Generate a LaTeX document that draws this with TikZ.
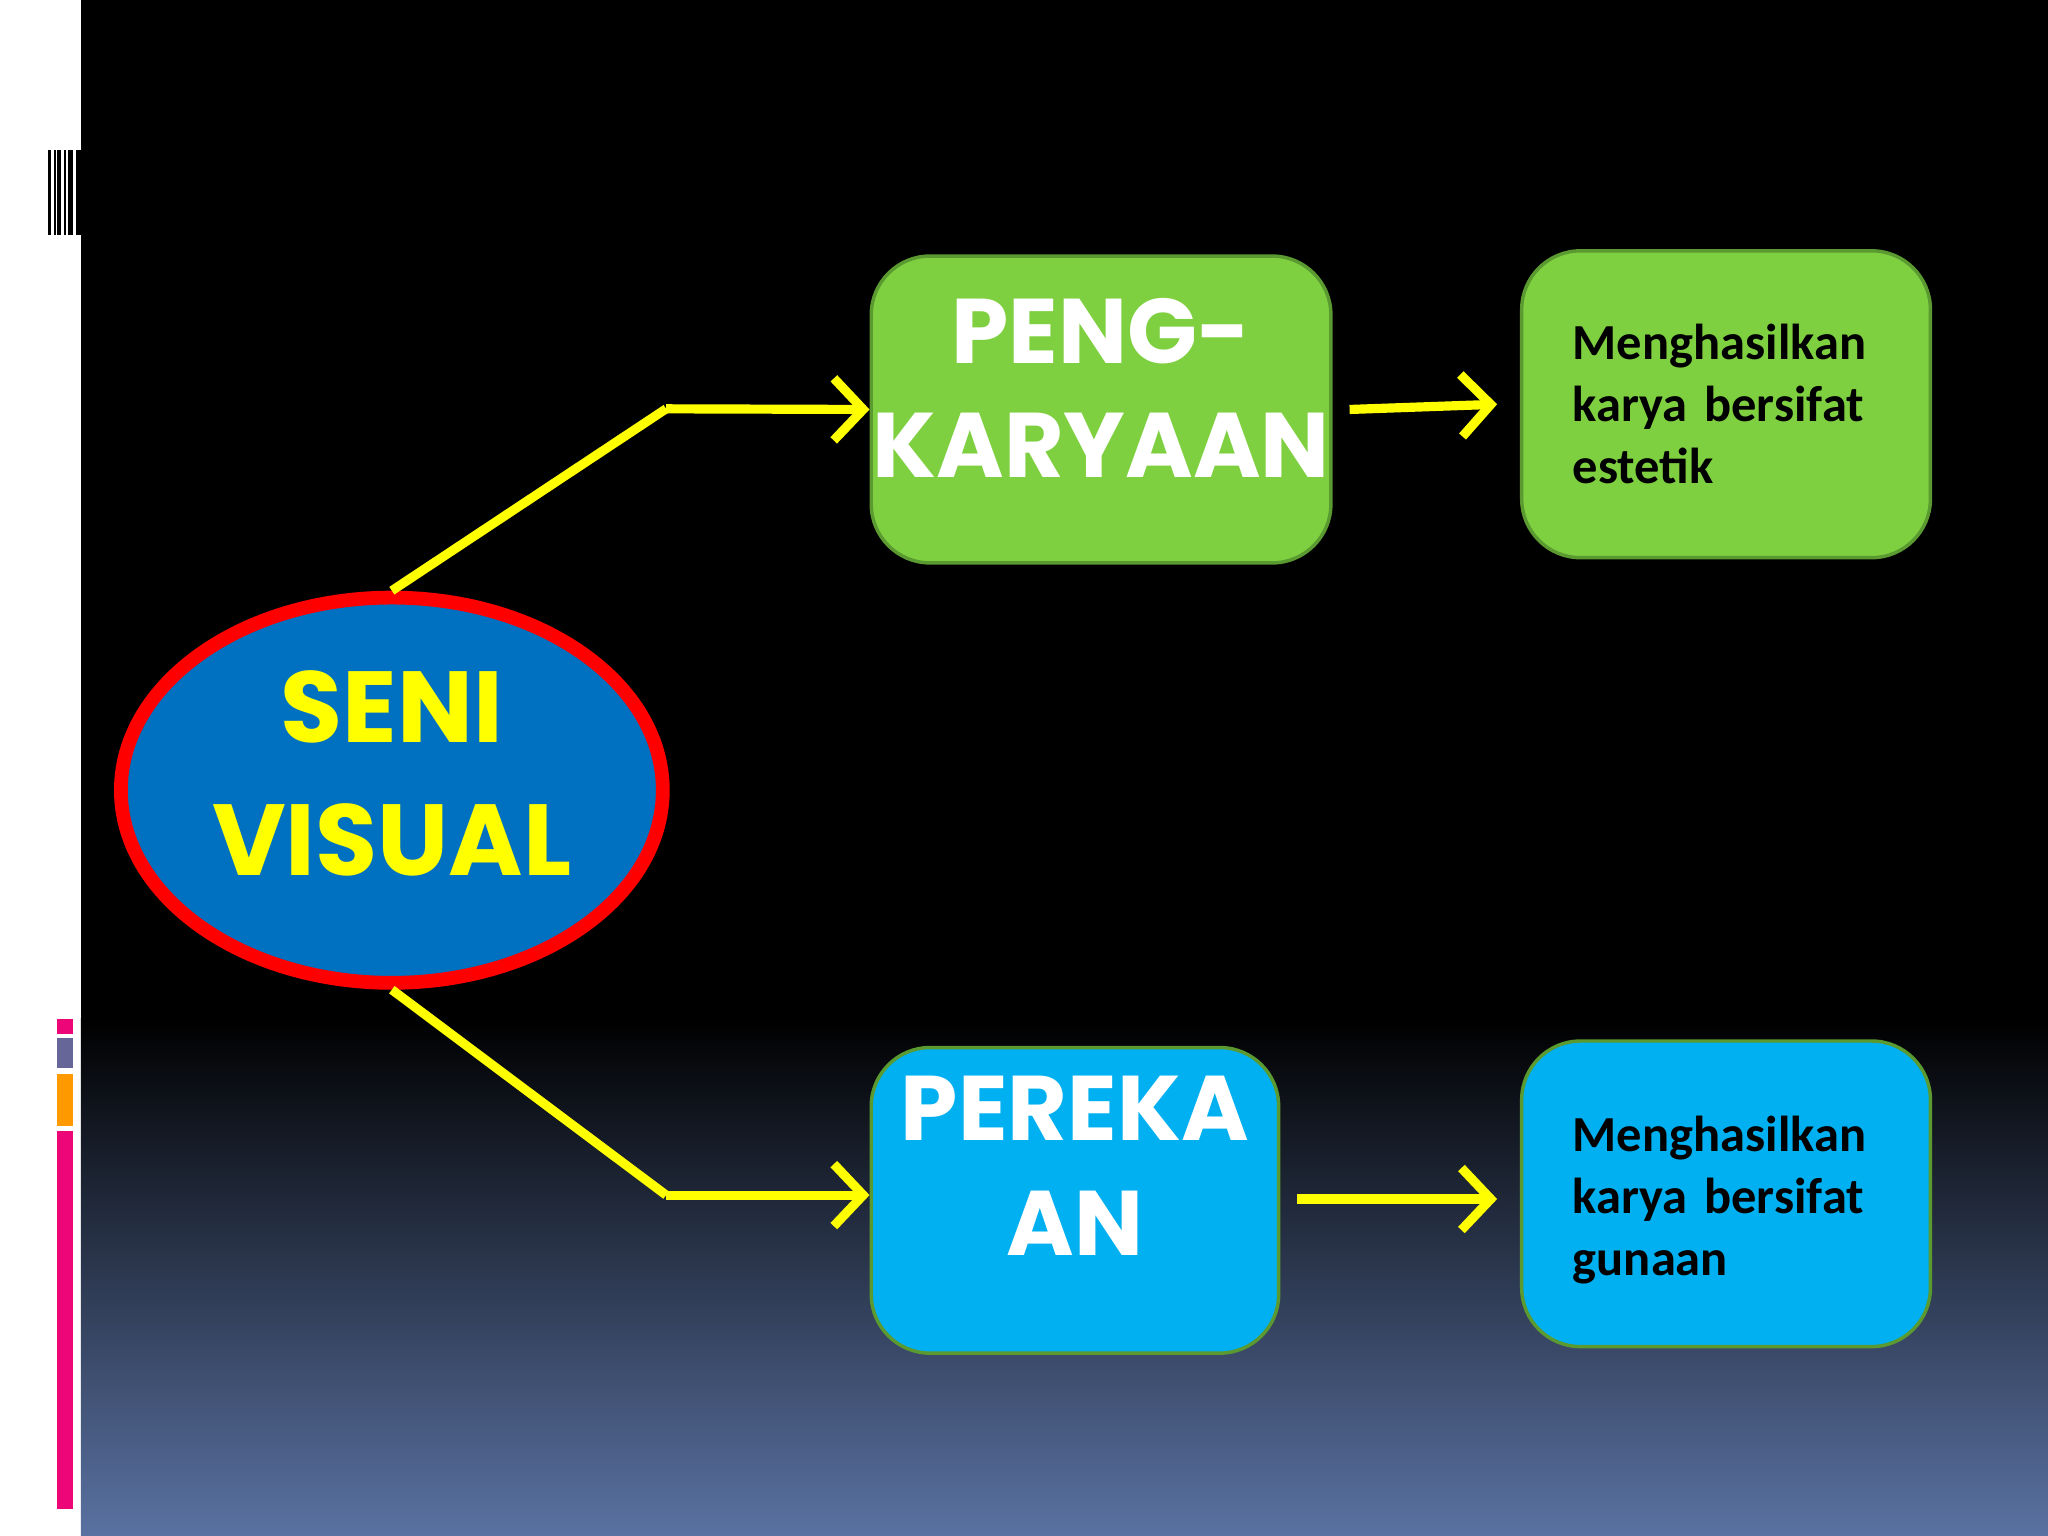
\documentclass[tikz,border=0pt]{standalone}
\usepackage{fontspec}
\setmainfont{Carlito}
\newfontfamily\headfont{Poppins}
\usetikzlibrary{arrows.meta,shapes.geometric}
\definecolor{gbox}{HTML}{7ED040}
\definecolor{gborder}{HTML}{5A9A30}
\definecolor{bbox}{HTML}{00B0F0}
\definecolor{ellblue}{HTML}{0070C0}
\definecolor{bottomblue}{HTML}{5A72A2}
\definecolor{ylw}{HTML}{FFFF00}
\tikzset{
 box/.style={draw=gborder,line width=1.5pt,rounded corners=0.9cm,minimum height=4.7cm},
 head/.style={text=white,font=\headfont\bfseries\fontsize{40}{50}\selectfont,align=center},
 body/.style={text=black,font=\bfseries\fontsize{22}{27}\selectfont,align=left,text width=5.3cm},
 conn/.style={draw=ylw,line width=4pt},
 arr/.style={conn,-{Straight Barb[length=0.45cm,width=0.95cm,line width=4pt]}}
}
\begin{document}
\begin{tikzpicture}[x=0.02cm,y=-0.02cm]
\useasboundingbox (0,0) rectangle (1568,1176);
\fill[white] (0,0) rectangle (1568,1176);
\fill[black] (62,0) rectangle (1568,781);
\shade[top color=black,bottom color=bottomblue] (62,780) rectangle (1568,1176);
% left decorations
\foreach \x/\w in {37/2,41/1.5,44/3,49/1.5,52/4,58/4}{\fill[black] (\x,115) rectangle (\x+\w,180);}
\fill[magenta!80!red] (44,780) rectangle (56,792);
\fill[gray!80!blue] (44,795) rectangle (56,818);
\fill[orange!80!yellow] (44,822) rectangle (56,862);
\fill[magenta!80!red] (44,866) rectangle (56,1155);
% nodes
\node[ellipse,draw=red,line width=6pt,fill=ellblue,minimum width=8.3cm,minimum height=5.9cm] (sv) at (300,605) {};
\node[text=ylw,font=\headfont\bfseries\fontsize{44}{58}\selectfont,align=center] at (300,592) {SENI\\VISUAL};
\node[box,fill=gbox,minimum width=7.04cm] (pk) at (843,313.5) {};
\node[head,anchor=north] at (843,222) {PENG-\\KARYAAN};
\node[box,fill=gbox,minimum width=6.26cm] (es) at (1321.5,309.5) {};
\node[body,anchor=west] at (1198,309) {Menghasilkan karya bersifat estetik};
\node[box,fill=bbox,minimum width=6.24cm,minimum height=4.68cm] (pr) at (823,919) {};
\node[head,anchor=north] at (823,818) {PEREKA\\AN};
\node[box,fill=bbox,minimum width=6.26cm,minimum height=4.68cm] (gu) at (1321.5,914) {};
\node[body,anchor=west] at (1198,919) {Menghasilkan karya bersifat gunaan};
% connectors
\coordinate (b1) at (510,313);
\coordinate (b2) at (510,915);
\draw[conn] (sv.north) -- (b1);
\draw[arr] (b1) -- (pk.west);
\draw[conn] (sv.south) -- (b2);
\draw[arr] (b2) -- (pk.west |- b2);
\draw[arr] ([xshift=0.26cm]pk.east) -- ([xshift=-0.35cm]es.west);
\draw[arr] ([xshift=0.26cm]pr.east |- 0,918) -- ([xshift=-0.35cm]gu.west |- 0,918);
\end{tikzpicture}
\end{document}
